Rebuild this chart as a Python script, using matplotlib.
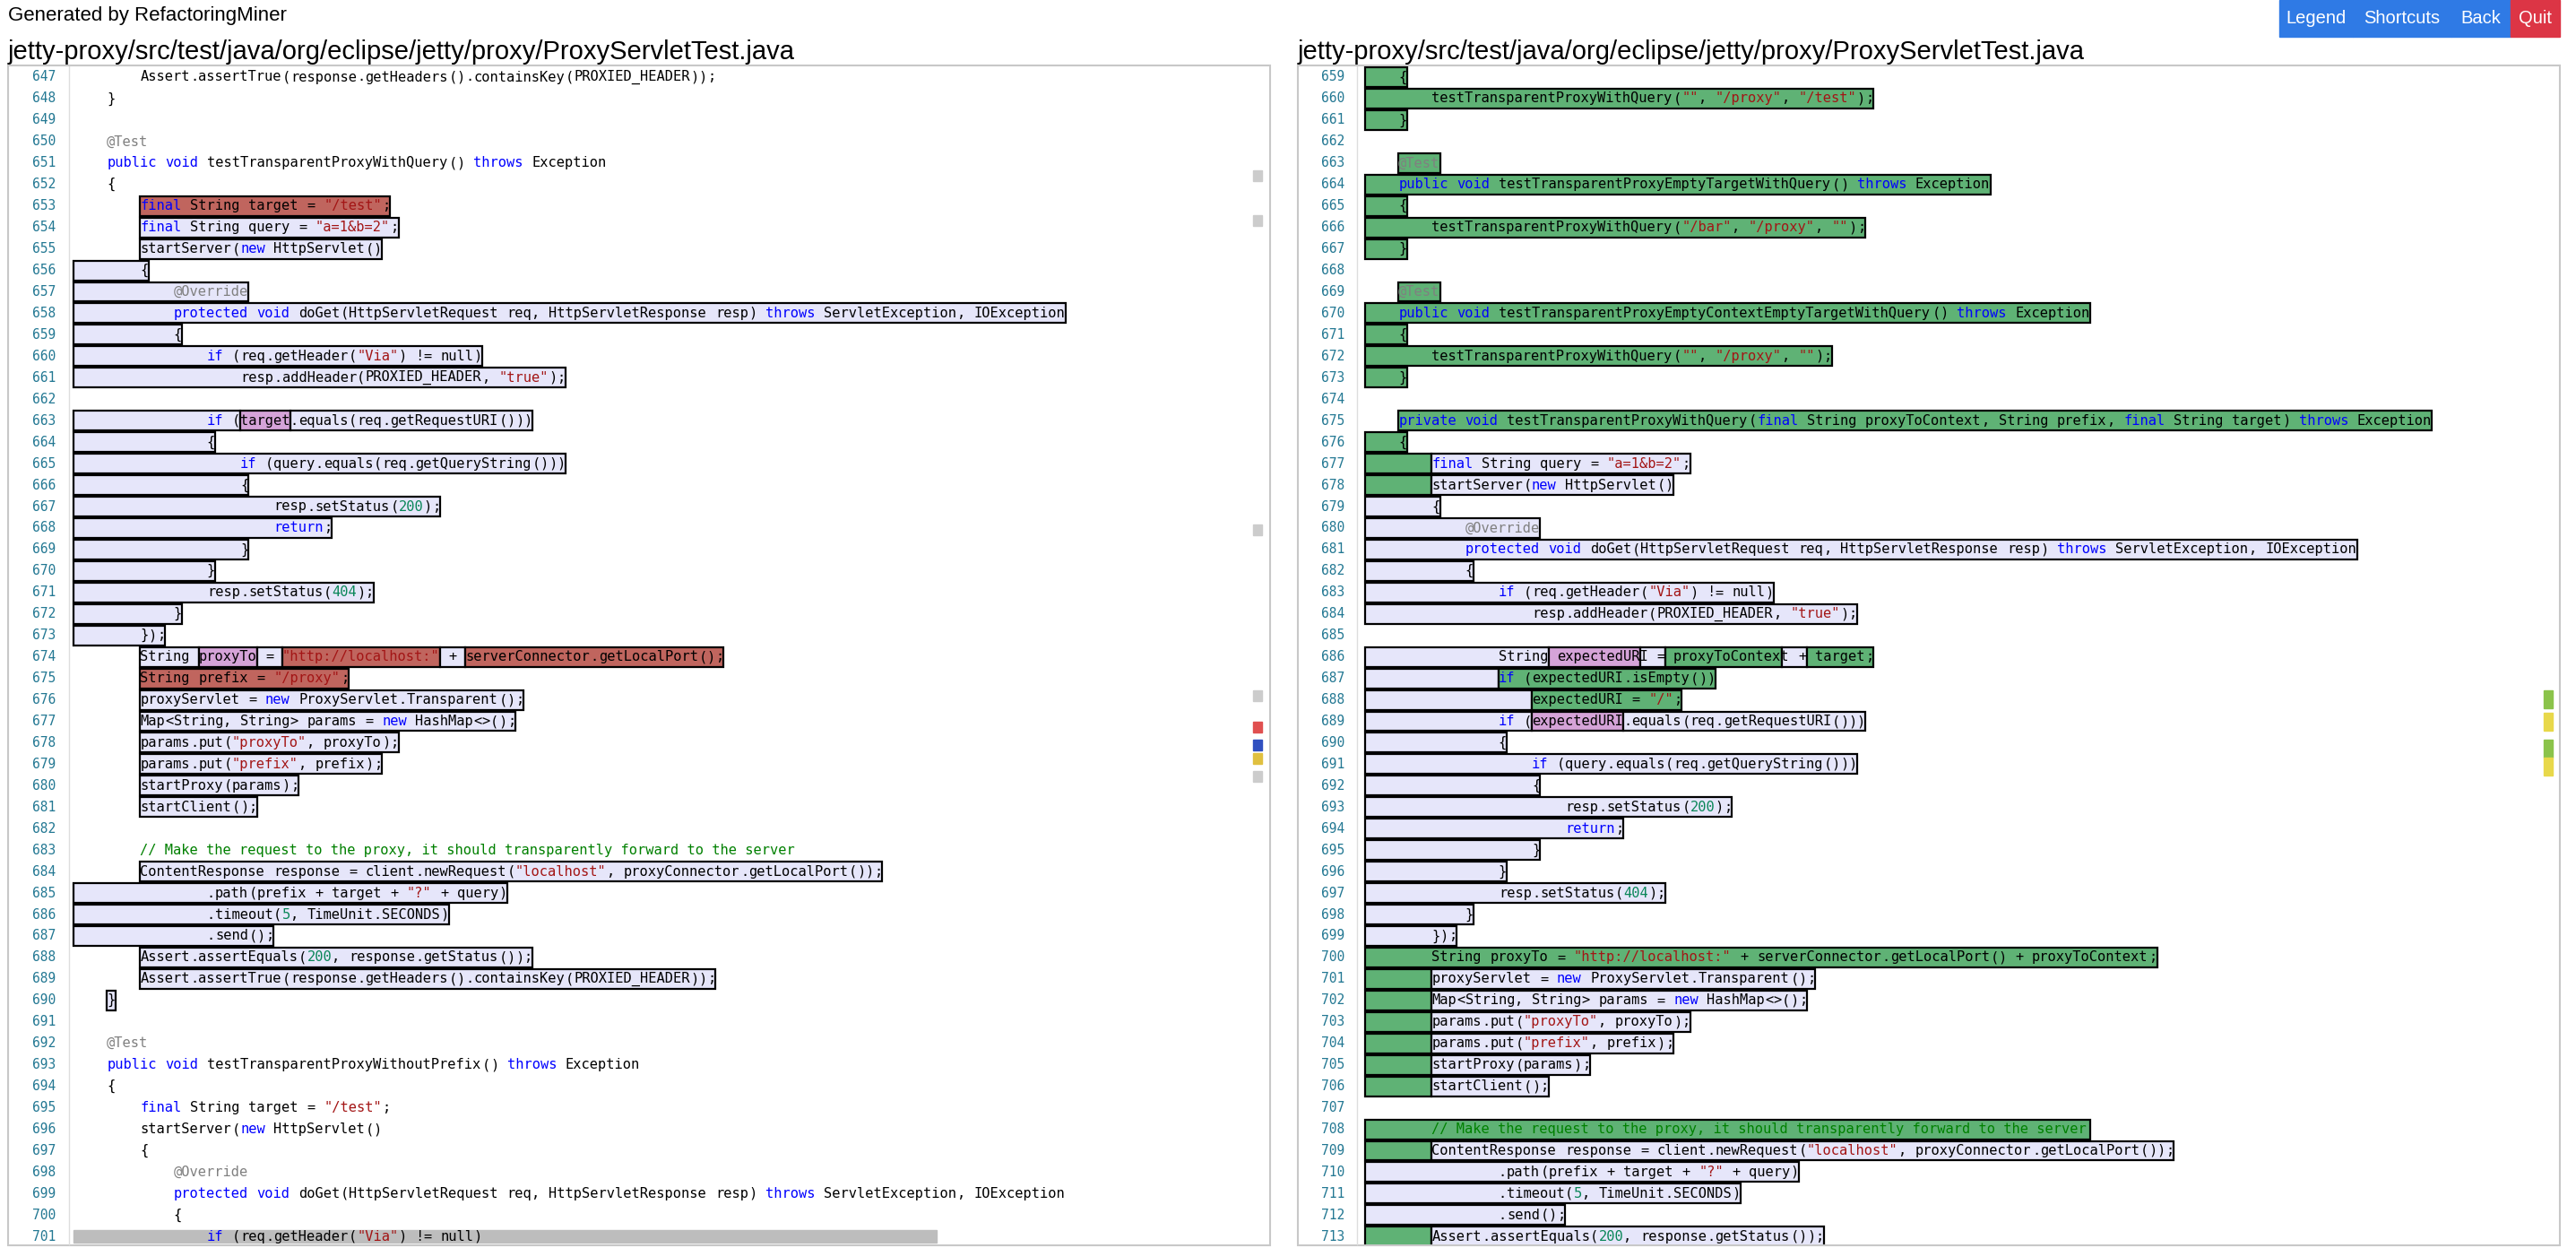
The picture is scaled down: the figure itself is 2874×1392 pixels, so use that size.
import re
import matplotlib.pyplot as plt
from matplotlib.patches import Rectangle

# ---- data ----
left_start = 647
left_code = [
    '        Assert.assertTrue(response.getHeaders().containsKey(PROXIED_HEADER));',
    '    }',
    '',
    '    @Test',
    '    public void testTransparentProxyWithQuery() throws Exception',
    '    {',
    '        final String target = "/test";',
    '        final String query = "a=1&b=2";',
    '        startServer(new HttpServlet()',
    '        {',
    '            @Override',
    '            protected void doGet(HttpServletRequest req, HttpServletResponse resp) throws ServletException, IOException',
    '            {',
    '                if (req.getHeader("Via") != null)',
    '                    resp.addHeader(PROXIED_HEADER, "true");',
    '',
    '                if (target.equals(req.getRequestURI()))',
    '                {',
    '                    if (query.equals(req.getQueryString()))',
    '                    {',
    '                        resp.setStatus(200);',
    '                        return;',
    '                    }',
    '                }',
    '                resp.setStatus(404);',
    '            }',
    '        });',
    '        String proxyTo = "http://localhost:" + serverConnector.getLocalPort();',
    '        String prefix = "/proxy";',
    '        proxyServlet = new ProxyServlet.Transparent();',
    '        Map<String, String> params = new HashMap<>();',
    '        params.put("proxyTo", proxyTo);',
    '        params.put("prefix", prefix);',
    '        startProxy(params);',
    '        startClient();',
    '',
    '        // Make the request to the proxy, it should transparently forward to the server',
    '        ContentResponse response = client.newRequest("localhost", proxyConnector.getLocalPort());',
    '                .path(prefix + target + "?" + query)',
    '                .timeout(5, TimeUnit.SECONDS)',
    '                .send();',
    '        Assert.assertEquals(200, response.getStatus());',
    '        Assert.assertTrue(response.getHeaders().containsKey(PROXIED_HEADER));',
    '    }',
    '',
    '    @Test',
    '    public void testTransparentProxyWithoutPrefix() throws Exception',
    '    {',
    '        final String target = "/test";',
    '        startServer(new HttpServlet()',
    '        {',
    '            @Override',
    '            protected void doGet(HttpServletRequest req, HttpServletResponse resp) throws ServletException, IOException',
    '            {',
    '                if (req.getHeader("Via") != null)',
]
# (start col, end col or None = end of line, kind)
left_marks = {653: [(8, None, 'del')], 654: [(8, None, 'mov')], 655: [(8, None, 'mov')],
              674: [(8, 15, 'mov'), (15, 22, 'pur'), (22, 25, 'mov'), (25, 44, 'del'),
                    (44, 47, 'mov'), (47, None, 'del')],
              675: [(8, None, 'del')],
              684: [(8, None, 'mov')], 688: [(8, None, 'mov')], 689: [(8, None, 'mov')],
              690: [(4, None, 'mov')]}
for n in list(range(656, 662)) + list(range(663, 674)) + [685, 686, 687]:
    left_marks[n] = [(0, None, 'mov')]
for n in range(676, 682):
    left_marks[n] = [(8, None, 'mov')]
left_marks[663] = [(0, 20, 'mov'), (20, 26, 'pur'), (26, None, 'mov')]

right_start = 659
right_code = [
    '    {',
    '        testTransparentProxyWithQuery("", "/proxy", "/test");',
    '    }',
    '',
    '    @Test',
    '    public void testTransparentProxyEmptyTargetWithQuery() throws Exception',
    '    {',
    '        testTransparentProxyWithQuery("/bar", "/proxy", "");',
    '    }',
    '',
    '    @Test',
    '    public void testTransparentProxyEmptyContextEmptyTargetWithQuery() throws Exception',
    '    {',
    '        testTransparentProxyWithQuery("", "/proxy", "");',
    '    }',
    '',
    '    private void testTransparentProxyWithQuery(final String proxyToContext, String prefix, final String target) throws Exception',
    '    {',
    '        final String query = "a=1&b=2";',
    '        startServer(new HttpServlet()',
    '        {',
    '            @Override',
    '            protected void doGet(HttpServletRequest req, HttpServletResponse resp) throws ServletException, IOException',
    '            {',
    '                if (req.getHeader("Via") != null)',
    '                    resp.addHeader(PROXIED_HEADER, "true");',
    '',
    '                String expectedURI = proxyToContext + target;',
    '                if (expectedURI.isEmpty())',
    '                    expectedURI = "/";',
    '                if (expectedURI.equals(req.getRequestURI()))',
    '                {',
    '                    if (query.equals(req.getQueryString()))',
    '                    {',
    '                        resp.setStatus(200);',
    '                        return;',
    '                    }',
    '                }',
    '                resp.setStatus(404);',
    '            }',
    '        });',
    '        String proxyTo = "http://localhost:" + serverConnector.getLocalPort() + proxyToContext;',
    '        proxyServlet = new ProxyServlet.Transparent();',
    '        Map<String, String> params = new HashMap<>();',
    '        params.put("proxyTo", proxyTo);',
    '        params.put("prefix", prefix);',
    '        startProxy(params);',
    '        startClient();',
    '',
    '        // Make the request to the proxy, it should transparently forward to the server',
    '        ContentResponse response = client.newRequest("localhost", proxyConnector.getLocalPort());',
    '                .path(prefix + target + "?" + query)',
    '                .timeout(5, TimeUnit.SECONDS)',
    '                .send();',
    '        Assert.assertEquals(200, response.getStatus());',
]
right_marks = {663: [(4, None, 'add')], 669: [(4, None, 'add')], 675: [(4, None, 'add')],
               686: [(0, 22, 'mov'), (22, 33, 'pur'), (33, 36, 'mov'), (36, 50, 'add'),
                     (50, 53, 'mov'), (53, None, 'add')],
               687: [(0, 16, 'mov'), (16, None, 'add')],
               688: [(0, 20, 'mov'), (20, None, 'add')],
               689: [(0, 20, 'mov'), (20, 31, 'pur'), (31, None, 'mov')],
               700: [(0, None, 'add')], 708: [(0, None, 'add')]}
for n in [659, 660, 661, 664, 665, 666, 667, 670, 671, 672, 673, 676]:
    right_marks[n] = [(0, None, 'add')]
for n in [677, 678] + list(range(701, 707)) + [709, 713]:
    right_marks[n] = [(0, 8, 'add'), (8, None, 'mov')]
for n in list(range(679, 685)) + list(range(690, 700)) + [710, 711, 712]:
    right_marks[n] = [(0, None, 'mov')]

file_path = 'jetty-proxy/src/test/java/org/eclipse/jetty/proxy/ProxyServletTest.java'
buttons = ['Legend', 'Shortcuts', 'Back', 'Quit']

# ---- style ----
mark_colors = {'mov': '#e6e6fa', 'del': '#c0655e', 'add': '#5fb275', 'pur': '#d5a3d8'}
keywords = {'public', 'private', 'protected', 'void', 'final', 'new', 'throws', 'if', 'return'}
W, H = 2874, 1392
pitch = 23.95
cw = 9.3
mono = 'DejaVu Sans Mono'
fs = 11.1

fig = plt.figure(figsize=(W / 100, H / 100), dpi=100)
ax = fig.add_axes([0, 0, 1, 1])
ax.set_xlim(0, W)
ax.set_ylim(H, 0)
ax.axis('off')

ax.text(9, 18, 'Generated by RefactoringMiner', fontsize=16, family='Liberation Sans', va='center')

# buttons
bx = [2543, 2625, 2735, 2801, 2856]
for i, b in enumerate(buttons):
    col = '#dc3545' if b == 'Quit' else '#2f7ae5'
    ax.add_patch(Rectangle((bx[i], 0), bx[i + 1] - bx[i], 41, color=col))
    ax.text((bx[i] + bx[i + 1]) / 2, 20, b, color='white', fontsize=14.5,
            family='Liberation Sans', ha='center', va='center')

tok_re = re.compile(r'//.*|"(?:[^"\\]|\\.)*"|@\w+|\b\d+\b|\w+|\s+|.')


def tok_color(t):
    if t.startswith('//'):
        return '#008000'
    if t.startswith('"'):
        return '#a31515'
    if t.startswith('@'):
        return '#808080'
    if t.isdigit():
        return '#098658'
    if t in keywords:
        return '#0000ff'
    return 'black'


def draw_panel(px0, px1, start, code, marks, num_x, col0, gutter_x):
    ax.text(px0, 58, file_path, fontsize=21, family='Liberation Sans', va='center')
    ax.add_patch(Rectangle((px0, 73), px1 - px0, 1316, fill=False, ec='#c8c8c8', lw=1.5))
    ax.plot([gutter_x, gutter_x], [74, 1388], color='#dddddd', lw=1)
    clip = Rectangle((px0, 74), px1 - px0 - 20, 1314, transform=ax.transData)
    for k, line in enumerate(code):
        n = start + k
        y = 86 + k * pitch
        ax.text(num_x, y, str(n), fontsize=10.5, family=mono, ha='right', va='center',
                color='#237893', clip_on=True)
        for s, e, kind in marks.get(n, []):
            e = len(line) if e is None else e
            r = Rectangle((col0 + s * cw, y - pitch / 2 + 1), (e - s) * cw, pitch - 2,
                          fc=mark_colors[kind], ec='black', lw=1.6)
            ax.add_patch(r)
            r.set_clip_path(clip)
        col = 0
        for t in tok_re.findall(line):
            if not t.isspace():
                tx = ax.text(col0 + col * cw, y, t, fontsize=fs, family=mono, va='center',
                             color=tok_color(t))
                tx.set_clip_path(clip)
            col += len(t)


draw_panel(9, 1417, left_start, left_code, left_marks, 62, 82, 77)
draw_panel(1448, 2856, right_start, right_code, right_marks, 1500, 1523, 1514)

# scrollbar markers and horizontal scrollbar
for y0, c in [(190, '#cccccc'), (240, '#cccccc'), (585, '#cccccc'), (770, '#cccccc'),
              (805, '#e05050'), (825, '#3050c0'), (840, '#e0c040'), (860, '#cccccc')]:
    ax.add_patch(Rectangle((1398, y0), 10, 12, color=c))
for y0, c in [(770, '#8bc34a'), (795, '#e8d84a'), (825, '#8bc34a'), (845, '#e8d84a')]:
    ax.add_patch(Rectangle((2838, y0), 10, 20, color=c))
ax.add_patch(Rectangle((82, 1372), 963, 14, color='#bdbdbd'))

fig.savefig('out.png', dpi=100)
